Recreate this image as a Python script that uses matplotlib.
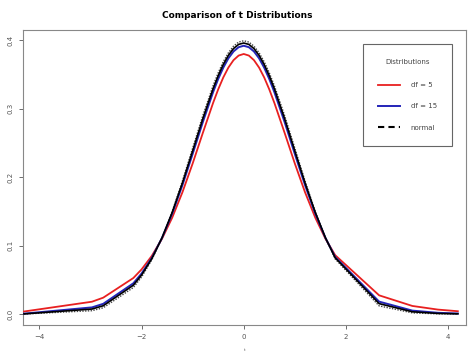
import numpy as np
import matplotlib
matplotlib.use("Agg")
import matplotlib.pyplot as plt
from matplotlib.lines import Line2D

# sample points (sparse in the tails, as in the original)
x = [-4.3, -2.97, -2.75, -2.16, -2.0, -1.8, -1.6, -1.4, -1.2, -1.0, -0.8, -0.6, -0.5, -0.4,
     -0.3, -0.2, -0.1, 0.0, 0.1, 0.2, 0.3, 0.4, 0.5, 0.6, 0.8, 1.0, 1.2, 1.4, 1.6, 1.79,
     2.65, 3.3, 3.8, 4.19]

# density values
normal = [0.00004, 0.0049, 0.0091, 0.0387, 0.0540, 0.0790, 0.1109, 0.1497, 0.1942, 0.2420,
          0.2897, 0.3332, 0.3521, 0.3683, 0.3814, 0.3910, 0.3970, 0.3989, 0.3970, 0.3910,
          0.3814, 0.3683, 0.3521, 0.3332, 0.2897, 0.2420, 0.1942, 0.1497, 0.1109, 0.0804,
          0.0119, 0.0017, 0.0003, 0.00006]
df30 = [0.0002, 0.0073, 0.0121, 0.0421, 0.0569, 0.0807, 0.1112, 0.1483, 0.1913, 0.2380,
        0.2852, 0.3288, 0.3478, 0.3643, 0.3776, 0.3875, 0.3936, 0.3956, 0.3936, 0.3875,
        0.3776, 0.3643, 0.3478, 0.3288, 0.2852, 0.2380, 0.1913, 0.1483, 0.1112, 0.0821,
        0.0152, 0.0033, 0.0009, 0.0003]
df15 = [0.0006, 0.0097, 0.0149, 0.0449, 0.0591, 0.0819, 0.1110, 0.1466, 0.1881, 0.2337,
        0.2803, 0.3239, 0.3431, 0.3597, 0.3733, 0.3833, 0.3895, 0.3916, 0.3895, 0.3833,
        0.3733, 0.3597, 0.3431, 0.3239, 0.2803, 0.2337, 0.1881, 0.1466, 0.1110, 0.0832,
        0.0181, 0.0050, 0.0018, 0.0008]
df5 = [0.0037, 0.0180, 0.0239, 0.0526, 0.0651, 0.0848, 0.1098, 0.1407, 0.1777, 0.2197,
       0.2645, 0.3081, 0.3279, 0.3454, 0.3598, 0.3706, 0.3773, 0.3796, 0.3773, 0.3706,
       0.3598, 0.3454, 0.3279, 0.3081, 0.2645, 0.2197, 0.1777, 0.1407, 0.1098, 0.0859,
       0.0273, 0.0118, 0.0065, 0.0041]

fig = plt.figure(figsize=(4.74, 3.53), dpi=100)
ax = fig.add_axes([23/474, 1-325/353, (466-23)/474, (325-30)/353])

ax.plot(x, normal, color="#444444", lw=1.0, ls=(0, (1, 1)), zorder=2)
ax.plot(x, df5, color="#e82020", lw=1.3, zorder=3)
ax.plot(x, df15, color="#2424b8", lw=1.4, zorder=4)
ax.plot(x, df30, color="black", lw=1.2, zorder=5)

ax.set_xlim(-4.32, 4.35)
ax.set_ylim(-0.016, 0.4146)
ax.set_xticks([-4, -2, 0, 2, 4])
ax.set_yticks([0.0, 0.1, 0.2, 0.3, 0.4])
ax.set_yticklabels(["0.0", "0.1", "0.2", "0.3", "0.4"], rotation=90, va="center")
ax.tick_params(labelsize=5, colors="#555555", length=3, width=0.6)
for s in ax.spines.values():
    s.set_color("#888888")
    s.set_linewidth(0.8)

ax.set_xlabel("t", fontsize=3, color="#555555", labelpad=6)
fig.text(0.5, 1-15/353, "Comparison of t Distributions", ha="center", va="center",
         fontsize=6.5, fontweight="bold")

handles = [Line2D([], [], color="#e82020", lw=1.3),
           Line2D([], [], color="#2424b8", lw=1.4),
           Line2D([], [], color="black", lw=1.5, ls=(0, (3, 2)))]
leg = ax.legend(handles, ["df = 5", "df = 15", "normal"], title="Distributions",
                loc="upper right", bbox_to_anchor=(452/474, 1-44/353),
                bbox_transform=fig.transFigure, fontsize=5, title_fontsize=5,
                frameon=True, fancybox=False, edgecolor="#666666", framealpha=1,
                labelspacing=2.2, borderpad=2.2, handlelength=3.2, handletextpad=1.5,
                borderaxespad=0)
leg.get_frame().set_linewidth(0.8)
leg.get_title().set_color("#444444")
leg._legend_box.sep = 12
for t in leg.get_texts():
    t.set_color("#444444")

fig.savefig("out.png", dpi=100)
